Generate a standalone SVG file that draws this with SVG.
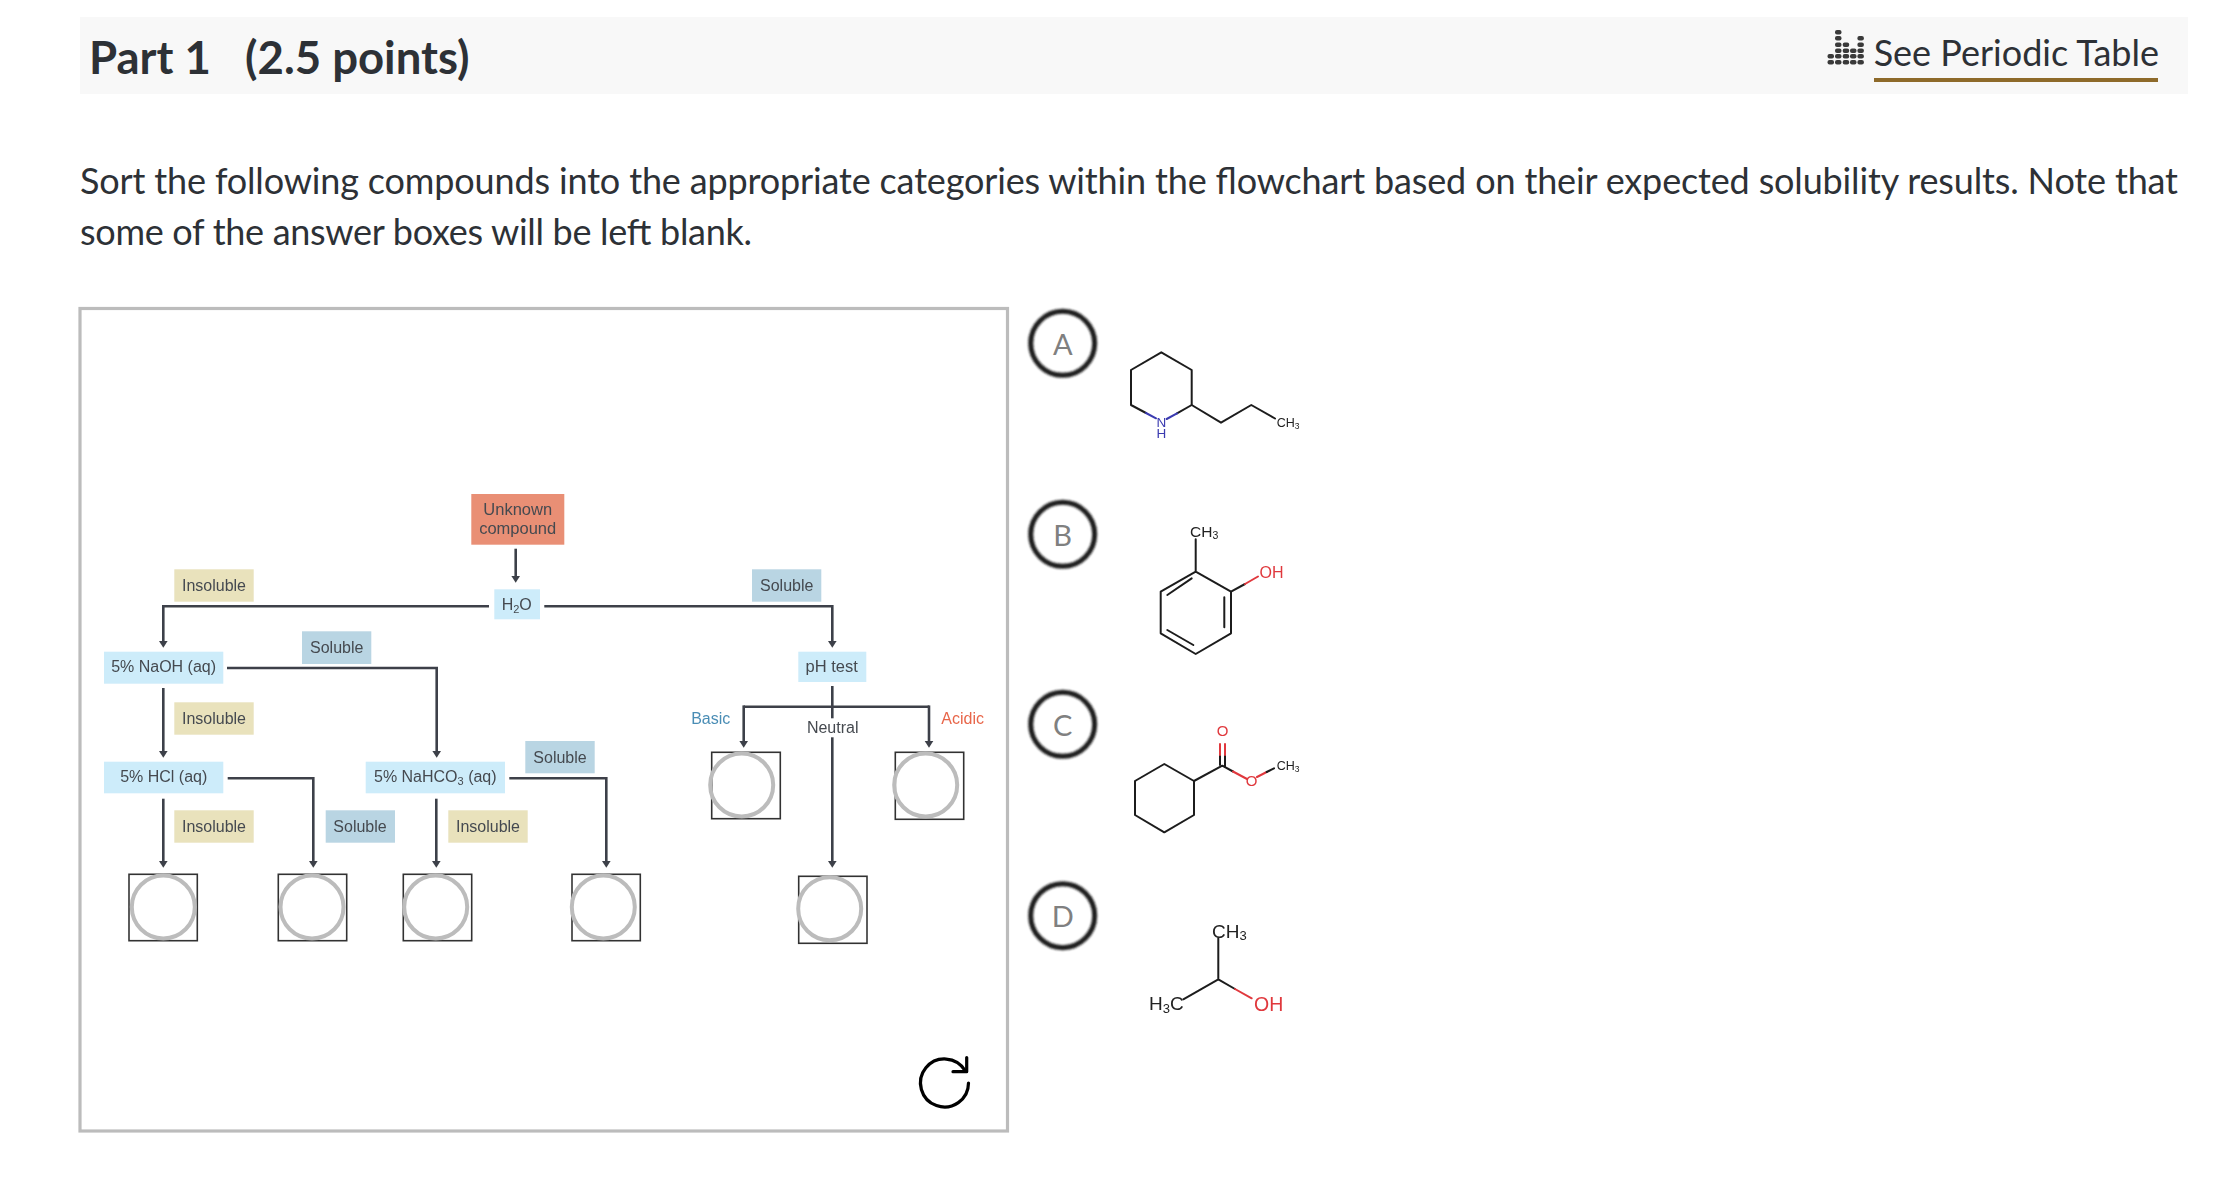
<svg xmlns="http://www.w3.org/2000/svg" width="2232" height="1196" viewBox="0 0 2232 1196">
<style>
.la{font-family:Lato,"Liberation Sans",sans-serif}
.h{font-family:"Liberation Sans",Arial,sans-serif;font-size:16px;fill:#454a50;text-anchor:middle}
.ins{fill:#e9e2bc}.sol{fill:#b9d5e3}.blu{fill:#cdecfa}
.conn{fill:none;stroke:#3c4048;stroke-width:2.6}
.box{fill:none;stroke:#333;stroke-width:1.6}
.circ{fill:none;stroke:#bcbcbc;stroke-width:4}
.let{fill:none;stroke:#1a1a1a;stroke-width:5;filter:url(#b2)}
.lt{font-family:Lato,"Liberation Sans",sans-serif;font-size:29px;fill:#808080;text-anchor:middle}
.bd{fill:none;stroke:#1c1c1c;stroke-width:2;stroke-linejoin:round;stroke-linecap:round}
.rd{fill:none;stroke:#e0393e;stroke-width:2;stroke-linecap:round}
.bl{fill:none;stroke:#3a3ab0;stroke-width:2;stroke-linecap:round}
.m{font-family:"Liberation Sans",Arial,sans-serif;fill:#222}
.pill{fill:#3a3a3a}
</style>
<defs>
<filter id="b1" x="-5%" y="-5%" width="110%" height="110%"><feGaussianBlur stdDeviation="0.45"/></filter>
<filter id="b2" x="-20%" y="-20%" width="140%" height="140%"><feGaussianBlur stdDeviation="0.8"/></filter>
<marker id="ah" markerUnits="userSpaceOnUse" markerWidth="10" markerHeight="10" refX="2" refY="4.5" orient="auto"><path d="M0,0 L7,4.5 L0,9 Z" fill="#3c4048"/></marker>
</defs>
<rect width="2232" height="1196" fill="#fff"/>
<g id="header">
<rect x="80" y="17" width="2108" height="77" fill="#f8f8f8"/>
<text class="la" y="74" font-size="45.5" font-weight="700" fill="#2d3136"><tspan x="89">Part 1</tspan><tspan x="245">(2.5 points)</tspan></text>
<g id="periodic-icon">
<g class="pill">
<rect x="1827.5" y="60" width="6.5" height="4.6" rx="2"/><rect x="1827.5" y="54" width="6.5" height="4.6" rx="2"/>
<rect x="1835" y="60" width="6.5" height="4.6" rx="2"/><rect x="1835" y="54" width="6.5" height="4.6" rx="2"/><rect x="1835" y="48.4" width="6.5" height="4.6" rx="2"/><rect x="1835" y="42.4" width="6.5" height="4.6" rx="2"/><rect x="1835" y="36" width="6.5" height="4.6" rx="2"/><rect x="1835" y="30" width="6.5" height="4.6" rx="2"/>
<rect x="1842.7" y="60" width="6.5" height="4.6" rx="2"/><rect x="1842.7" y="54" width="6.5" height="4.6" rx="2"/><rect x="1842.7" y="48.4" width="6.5" height="4.6" rx="2"/><rect x="1842.7" y="42.4" width="6.5" height="4.6" rx="2"/>
<rect x="1850" y="60" width="6.5" height="4.6" rx="2"/><rect x="1850" y="54" width="6.5" height="4.6" rx="2"/><rect x="1850" y="48.4" width="6.5" height="4.6" rx="2"/>
<rect x="1857.4" y="60" width="6.5" height="4.6" rx="2"/><rect x="1857.4" y="54" width="6.5" height="4.6" rx="2"/><rect x="1857.4" y="48.4" width="6.5" height="4.6" rx="2"/><rect x="1857.4" y="42.4" width="6.5" height="4.6" rx="2"/><rect x="1857.4" y="36" width="6.5" height="4.6" rx="2"/>
</g></g>
<text class="la" x="1873.7" y="66" font-size="36" fill="#2d3136">See Periodic Table</text>
<rect x="1874" y="78" width="284" height="4" fill="#8e6a2a"/>
</g>
<g id="question" class="la" font-size="36" fill="#2d3136">
<text x="80" y="194" textLength="2098" lengthAdjust="spacing">Sort the following compounds into the appropriate categories within the flowchart based on their expected solubility results. Note that</text>
<text x="80" y="245" textLength="672" lengthAdjust="spacing">some of the answer boxes will be left blank.</text>
</g>
<g id="panel"><rect x="80" y="308.5" width="927.5" height="822.5" fill="#fff" stroke="#bcbcbc" stroke-width="3.2"/></g>
<g filter="url(#b1)">
<g id="connectors" class="conn">
<path marker-end="url(#ah)" d="M515.7 548.7V577.7"/>
<path marker-end="url(#ah)" d="M489 606.3H163.3V642.7"/>
<path marker-end="url(#ah)" d="M544.3 606.3H832.3V642.7"/>
<path marker-end="url(#ah)" d="M227 668H436.7V752.7"/>
<path marker-end="url(#ah)" d="M163.3 688V752.7"/>
<path marker-end="url(#ah)" d="M227.7 778.3H313.3V862.7"/>
<path marker-end="url(#ah)" d="M163.3 798.7V862.7"/>
<path marker-end="url(#ah)" d="M436.3 798.7V862.7"/>
<path marker-end="url(#ah)" d="M509.3 778.3H606.3V862.7"/>
<path d="M832.3 686V718.3"/>
<path marker-end="url(#ah)" d="M832.3 737.3V862.7"/>
<path d="M743.7 706.7H929"/>
<path marker-end="url(#ah)" d="M743.7 705.4V742.7"/>
<path marker-end="url(#ah)" d="M929 705.4V742.7"/>
</g>
<g id="unknown"><rect x="471.3" y="494" width="93" height="50.7" fill="#e98f75"/><text class="h" x="517.7" y="515" style="font-size:16.5px">Unknown</text><text class="h" x="517.7" y="534" style="font-size:16.5px">compound</text></g>
<g id="h2o"><rect x="494.3" y="589.3" width="45.7" height="30" class="blu"/><text class="h" x="516.7" y="610">H<tspan font-size="11" dy="3">2</tspan><tspan dy="-3">O</tspan></text></g>
<g id="insoluble-1"><rect x="174.3" y="569.3" width="79.4" height="32.4" class="ins"/><text class="h" x="214" y="591">Insoluble</text></g>
<g id="soluble-1"><rect x="752" y="569.3" width="69.3" height="32.4" class="sol"/><text class="h" x="786.7" y="591">Soluble</text></g>
<g id="naoh"><rect x="104" y="651.7" width="119.3" height="32" class="blu"/><text class="h" x="163.6" y="671.7">5% NaOH (aq)</text></g>
<g id="soluble-2"><rect x="302" y="631.3" width="69.3" height="32.7" class="sol"/><text class="h" x="336.7" y="653">Soluble</text></g>
<g id="ph"><rect x="798.3" y="651.7" width="68" height="30.3" class="blu"/><text class="h" x="831.7" y="671.7" style="font-size:16.5px">pH test</text></g>
<g id="insoluble-2"><rect x="174.3" y="702.3" width="79.4" height="32.4" class="ins"/><text class="h" x="214" y="724">Insoluble</text></g>
<g id="basic"><text class="h" x="710.7" y="724" style="fill:#4a8db5">Basic</text></g>
<g id="acidic"><text class="h" x="962.7" y="724" style="fill:#e8664a">Acidic</text></g>
<g id="neutral"><text class="h" x="832.7" y="733.3">Neutral</text></g>
<g id="soluble-3"><rect x="525.3" y="741" width="69.4" height="32.3" class="sol"/><text class="h" x="560" y="762.7">Soluble</text></g>
<g id="hcl"><rect x="104" y="761.7" width="119.3" height="31.6" class="blu"/><text class="h" x="163.7" y="781.7">5% HCl (aq)</text></g>
<g id="nahco3"><rect x="365.7" y="761.7" width="139.3" height="31.6" class="blu"/><text class="h" x="435.3" y="781.7">5% NaHCO<tspan font-size="11" dy="3">3</tspan><tspan dy="-3"> (aq)</tspan></text></g>
<g id="insoluble-3"><rect x="174.3" y="810.3" width="79.4" height="32.4" class="ins"/><text class="h" x="214" y="831.7">Insoluble</text></g>
<g id="soluble-4"><rect x="325.7" y="810.3" width="69.3" height="32.4" class="sol"/><text class="h" x="360" y="831.7">Soluble</text></g>
<g id="insoluble-4"><rect x="448.3" y="810.3" width="79.4" height="32.4" class="ins"/><text class="h" x="488" y="831.7">Insoluble</text></g>
<g id="answer-1"><rect x="129" y="874.3" width="68.3" height="66.4" class="box"/><circle cx="163.3" cy="907" r="31.5" class="circ"/></g>
<g id="answer-2"><rect x="278.3" y="874.3" width="68.4" height="66.4" class="box"/><circle cx="312" cy="907" r="31.5" class="circ"/></g>
<g id="answer-3"><rect x="403.3" y="874.3" width="68.4" height="66.4" class="box"/><circle cx="435.7" cy="907" r="31.5" class="circ"/></g>
<g id="answer-4"><rect x="572" y="874.3" width="68.3" height="66.4" class="box"/><circle cx="603.3" cy="907" r="31.5" class="circ"/></g>
<g id="answer-5"><rect x="798.7" y="876.3" width="68.3" height="67" class="box"/><circle cx="829.7" cy="908.7" r="31.5" class="circ"/></g>
<g id="answer-6"><rect x="711.7" y="752.3" width="68.6" height="66.4" class="box"/><circle cx="741.7" cy="785" r="31.5" class="circ"/></g>
<g id="answer-7"><rect x="895.3" y="752.3" width="68.4" height="67" class="box"/><circle cx="925.7" cy="785" r="31.5" class="circ"/></g>
</g>
<g id="reload" fill="none" stroke="#000" stroke-width="3.2" stroke-linecap="round" stroke-linejoin="round">
<path d="M968.5 1083A24 24 0 1 1 965 1070.5"/><path d="M953 1071.7H966.7V1057.5"/>
</g>
<g id="letter-a"><circle class="let" cx="1062.7" cy="343.3" r="32"/><text class="lt" x="1062.7" y="355">A</text></g>
<g id="letter-b"><circle class="let" cx="1062.7" cy="534.3" r="32"/><text class="lt" x="1062.7" y="546">B</text></g>
<g id="letter-c"><circle class="let" cx="1062.7" cy="724.3" r="32"/><text class="lt" x="1062.7" y="736">C</text></g>
<g id="letter-d"><circle class="let" cx="1062.7" cy="915.7" r="32"/><text class="lt" x="1062.7" y="927">D</text></g>
<g filter="url(#b1)">
<g id="molecule-a">
<path class="bd" d="M1146 413L1131 405V370L1161.3 352.3L1191.7 370V405L1177 413.4"/>
<path class="bl" d="M1146 413L1156 418.3M1166.7 419L1177 413.4"/>
<path class="bd" d="M1191.7 405L1221 422.7L1251.3 405L1275 418.5"/>
<text class="m" x="1161.3" y="426.7" font-size="13.5" text-anchor="middle" style="fill:#3a3ab0">N</text>
<text class="m" x="1161.3" y="437.7" font-size="13.5" text-anchor="middle" style="fill:#3a3ab0">H</text>
<text class="m" x="1276.7" y="426.7" font-size="12.5">CH<tspan font-size="8.5" dy="2">3</tspan></text>
</g>
<g id="molecule-b">
<path class="bd" d="M1195.7 571.7L1231 591.7V633.3L1195.7 654L1160.7 633.3V591.7ZM1191.7 578.3L1167.3 595M1224.3 597.3V627.3M1167.3 630L1193.3 645M1195.7 571.7V539.3M1231 591.7L1245 584"/>
<path class="rd" d="M1245 584L1258 576.5"/>
<text class="m" x="1190" y="536.7" font-size="15.5">CH<tspan font-size="10.5" dy="2">3</tspan></text>
<text class="m" x="1259.5" y="578" font-size="16" style="fill:#e0393e">OH</text>
</g>
<g id="molecule-c">
<path class="bd" d="M1164.3 764L1194 781V815L1164.3 832.3L1135 815V781ZM1194 781L1222.3 765.7L1233 771.5"/>
<path class="bd" d="M1220 765V755M1225 767V755"/>
<path class="rd" d="M1220 755V744M1225 755V744M1233 771.5L1247 779M1257 777L1266.7 772"/>
<path class="bd" d="M1266.7 772L1274 768.3"/>
<text class="m" x="1222.7" y="735.7" font-size="15" text-anchor="middle" style="fill:#e0393e">O</text>
<text class="m" x="1251.7" y="786.3" font-size="15" text-anchor="middle" style="fill:#e0393e">O</text>
<text class="m" x="1276.7" y="770" font-size="12.5">CH<tspan font-size="8.5" dy="2">3</tspan></text>
</g>
<g id="molecule-d">
<path class="bd" d="M1218.3 938V979.3L1183.3 999.3M1218.3 979.3L1235 989"/>
<path class="rd" d="M1235 989L1251.7 998.3"/>
<text class="m" x="1212" y="937.7" font-size="19">CH<tspan font-size="13" dy="2.5">3</tspan></text>
<text class="m" x="1254" y="1010.7" font-size="19.5" style="fill:#e0393e">OH</text>
<text class="m" x="1149" y="1010.3" font-size="19">H<tspan font-size="13" dy="2.5">3</tspan><tspan dy="-2.5">C</tspan></text>
</g>
</g>
</svg>
